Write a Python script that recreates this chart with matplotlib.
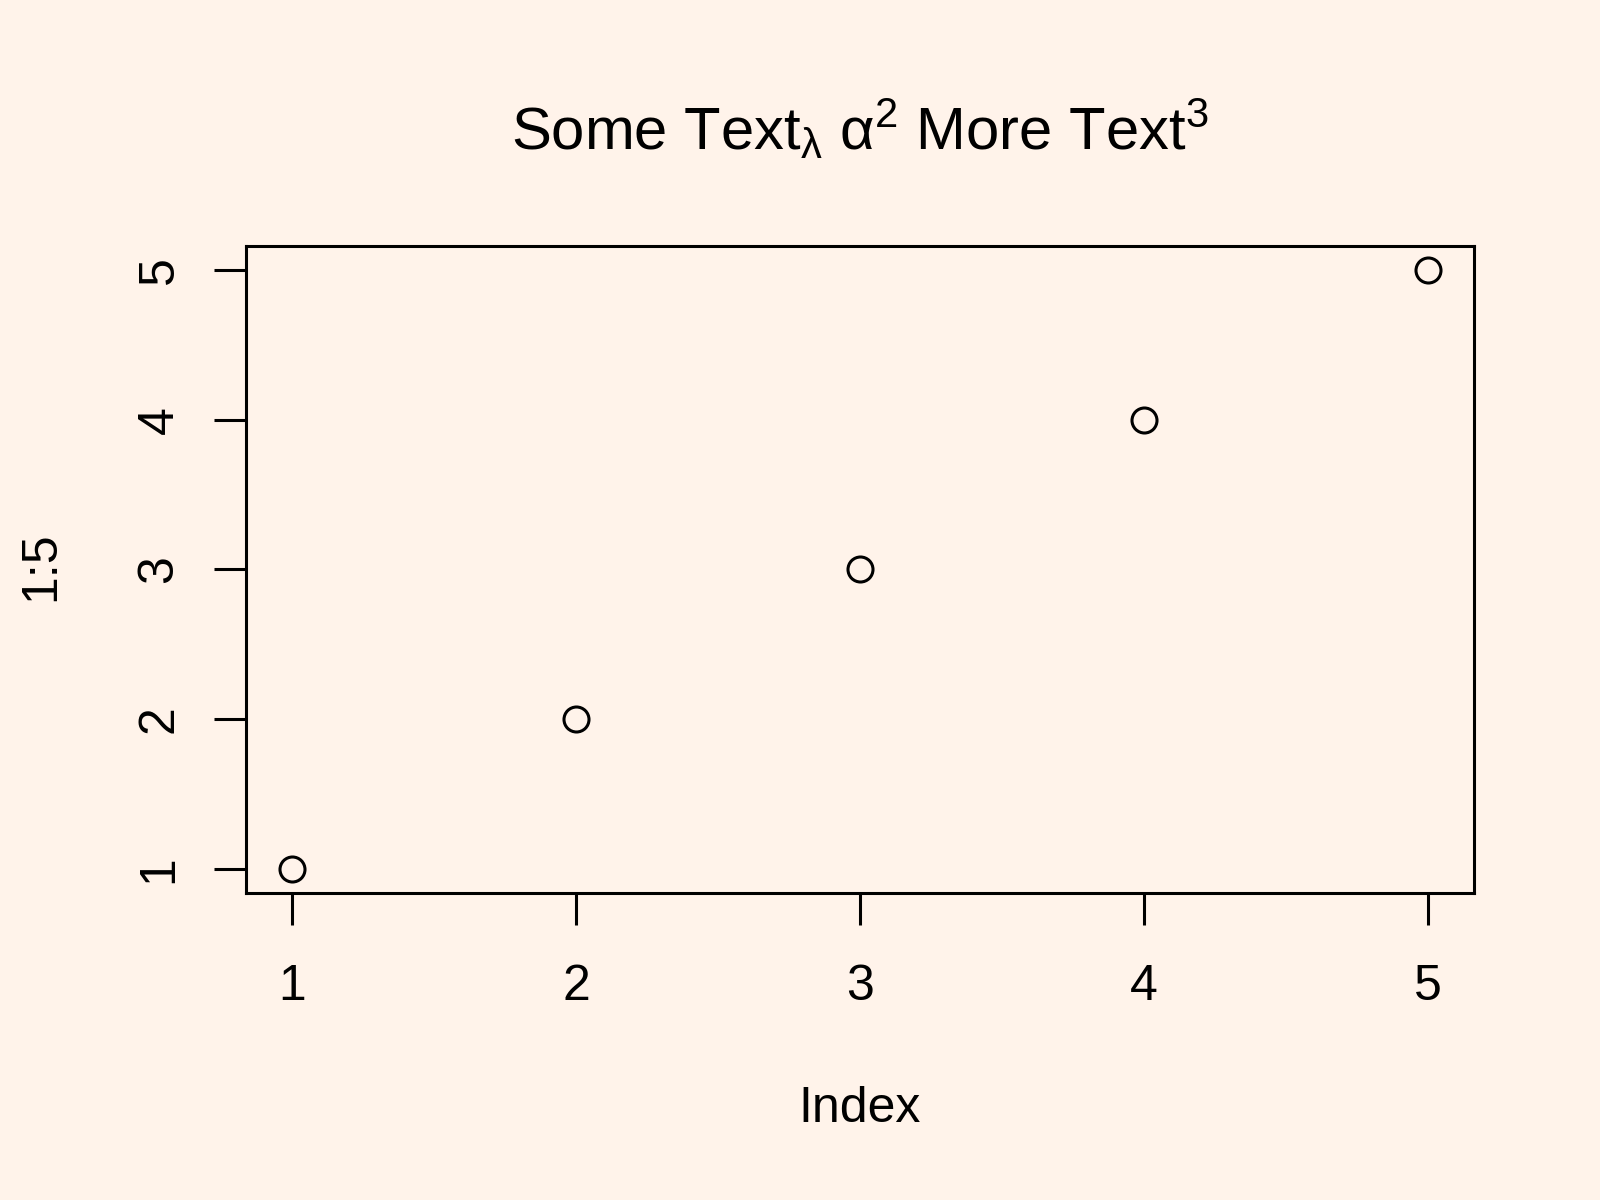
import numpy as np
import matplotlib
matplotlib.use('Agg')
import matplotlib.pyplot as plt

# data: plot(1:5)
index = [1, 2, 3, 4, 5]
values = [1, 2, 3, 4, 5]
tick_labels = ['1', '2', '3', '4', '5']

plt.rcParams['font.family'] = ['Liberation Sans', 'DejaVu Sans']
plt.rcParams['mathtext.fontset'] = 'custom'
plt.rcParams['mathtext.rm'] = 'Liberation Sans'
plt.rcParams['mathtext.it'] = 'Liberation Sans'
plt.rcParams['mathtext.default'] = 'regular'

bg = '#FFF3EA'
lw = 2.2
fig = plt.figure(figsize=(16, 12), dpi=100, facecolor=bg)
ax = fig.add_axes([0.154, 0.256, 0.767, 0.539])
ax.set_facecolor(bg)

ax.plot(index, values, linestyle='none', marker='o', markersize=18,
        markerfacecolor='none', markeredgecolor='black', markeredgewidth=lw)

# R style 4% padding
ax.set_xlim(0.84, 5.16)
ax.set_ylim(0.84, 5.16)
ax.set_xticks(index)
ax.set_xticklabels(tick_labels)
ax.set_yticks(values)
ax.set_yticklabels(tick_labels)

for s in ax.spines.values():
    s.set_linewidth(lw)

ax.tick_params(axis='both', length=23, width=lw, labelsize=36)
ax.tick_params(axis='x', pad=28)
ax.tick_params(axis='y', pad=23, labelrotation=90)
plt.setp(ax.get_yticklabels(), va='center', ha='right')

fig.text(0.5375, 0.875, 'Some Text$_{λ}$ α$^{2}$ More Text$^{3}$',
         fontsize=43, ha='center', va='baseline')
fig.text(0.5375, 0.065, 'Index', fontsize=36, ha='center', va='baseline')
fig.text(0.026, 0.528, '1:5', fontsize=36, ha='center', va='center', rotation=90)

plt.savefig('out.png', dpi=100, facecolor=bg)
